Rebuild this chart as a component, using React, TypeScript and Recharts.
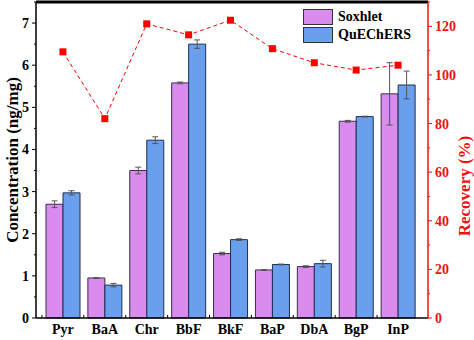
import { ComposedChart, Bar, Line, XAxis, YAxis, ErrorBar, ReferenceLine, Legend } from "recharts"

const categories = ["Pyr", "BaA", "Chr", "BbF", "BkF", "BaP", "DbA", "BgP", "InP"]
const soxhlet = [2.7, 0.95, 3.5, 5.58, 1.53, 1.14, 1.22, 4.67, 5.32]
const soxhletErr = [0.08, 0.01, 0.08, 0.02, 0.03, 0.01, 0.02, 0.02, 0.74]
const quechers = [2.97, 0.78, 4.22, 6.5, 1.86, 1.27, 1.29, 4.78, 5.53]
const quechersErr = [0.05, 0.04, 0.08, 0.1, 0.02, 0.01, 0.08, 0.01, 0.33]
const recovery = [109.5, 82, 121, 116.5, 122.5, 110.8, 105, 102, 104]

const leftTicks = [0, 0.5, 1, 1.5, 2, 2.5, 3, 3.5, 4, 4.5, 5, 5.5, 6, 6.5, 7, 7.5]
const rightTicks = [0, 10, 20, 30, 40, 50, 60, 70, 80, 90, 100, 110, 120, 130]

const data = categories.map((name, i) => ({
    name,
    soxhlet: soxhlet[i],
    soxErr: soxhletErr[i],
    quechers: quechers[i],
    queErr: quechersErr[i],
    recovery: recovery[i],
}))

const FONT = "'Liberation Serif', 'Times New Roman', serif"
const RED = "#F01010"
const SOX = "#D98CEE"
const QUE = "#6A9FEE"

const LeftTick = ({ x, y, payload }: any) => {
    const major = Number.isInteger(payload.value)
    return (
        <g>
            <line x1={x} x2={x - (major ? 4 : 2)} y1={y} y2={y} stroke="#000" strokeWidth={1} />
            {major && (
                <text x={x - 7} y={y} dy={5} textAnchor="end" fontFamily={FONT} fontWeight="bold" fontSize={14} fill="#000">
                    {payload.value}
                </text>
            )}
        </g>
    )
}

const RightTick = ({ x, y, payload }: any) => {
    const major = payload.value % 20 === 0 && payload.value <= 120
    return (
        <g>
            <line x1={x} x2={x + (major ? 4 : 2)} y1={y} y2={y} stroke={RED} strokeWidth={1} />
            {major && (
                <text x={x + 7} y={y} dy={5} textAnchor="start" fontFamily={FONT} fontWeight="bold" fontSize={14} fill={RED}>
                    {payload.value}
                </text>
            )}
        </g>
    )
}

const BottomTick = ({ x, y, payload }: any) => (
    <g>
        <line x1={x - 21} x2={x - 21} y1={y} y2={y - 3} stroke="#000" strokeWidth={1} />
        <text x={x} y={y + 16} textAnchor="middle" fontFamily={FONT} fontWeight="bold" fontSize={14} fill="#000">
            {payload.value}
        </text>
    </g>
)

const LeftTitle = ({ viewBox }: any) => {
    const cy = viewBox.y + viewBox.height / 2
    return (
        <text
            x={12}
            y={cy}
            transform={`rotate(-90, 12, ${cy})`}
            textAnchor="middle"
            dominantBaseline="central"
            fontFamily={FONT}
            fontWeight="bold"
            fontSize={17}
            fill="#000"
        >
            Concentration (ng/mg)
        </text>
    )
}

const RightTitle = ({ viewBox }: any) => {
    const cy = viewBox.y + viewBox.height / 2 + 26
    const cx = viewBox.x + viewBox.width - 10
    return (
        <text
            x={cx}
            y={cy}
            transform={`rotate(-90, ${cx}, ${cy})`}
            textAnchor="middle"
            dominantBaseline="central"
            fontFamily={FONT}
            fontWeight="bold"
            fontSize={17}
            fill={RED}
        >
            Recovery (%)
        </text>
    )
}

const Square = ({ cx, cy, index }: any) => (
    <rect key={`sq-${index}`} x={cx - 3.5} y={cy - 3.5} width={7} height={7} fill="#FF0000" />
)

const LegendBox = () => (
    <div style={{ fontFamily: FONT, fontWeight: "bold", fontSize: 14, lineHeight: "18px" }}>
        {[
            { label: "Soxhlet", color: SOX },
            { label: "QuEChERS", color: QUE },
        ].map((item) => (
            <div key={item.label} style={{ display: "flex", alignItems: "center", height: 18 }}>
                <span
                    style={{
                        display: "inline-block",
                        width: 28,
                        height: 14,
                        background: item.color,
                        border: "1px solid #333",
                        marginRight: 5,
                    }}
                />
                <span>{item.label}</span>
            </div>
        ))}
    </div>
)

export default function App() {
    return (
        <div style={{ position: "absolute", left: 0, top: 0, width: 474, height: 340, background: "#fff" }}>
            <ComposedChart
                width={474}
                height={340}
                data={data}
                margin={{ top: 2, right: 0, bottom: 0, left: 0 }}
                barCategoryGap={4}
                barGap={0}
            >
                <XAxis
                    dataKey="name"
                    height={22}
                    padding={{ left: 6, right: 9 }}
                    axisLine={{ stroke: "#000", strokeWidth: 1.5 }}
                    tickLine={false}
                    tickSize={0}
                    tickMargin={0}
                    tick={<BottomTick />}
                    interval={0}
                />
                <YAxis
                    yAxisId="left"
                    width={36}
                    domain={[0, 7.5]}
                    ticks={leftTicks}
                    interval={0}
                    axisLine={{ stroke: "#000", strokeWidth: 1.5 }}
                    tickLine={false}
                    tickSize={0}
                    tickMargin={0}
                    tick={<LeftTick />}
                    label={<LeftTitle />}
                />
                <YAxis
                    yAxisId="right"
                    orientation="right"
                    width={46}
                    domain={[0, 130]}
                    ticks={rightTicks}
                    interval={0}
                    axisLine={{ stroke: RED, strokeWidth: 1.5 }}
                    tickLine={false}
                    tickSize={0}
                    tickMargin={0}
                    tick={<RightTick />}
                    label={<RightTitle />}
                />
                <ReferenceLine yAxisId="left" y={7.5} stroke="#000" strokeWidth={3} />
                <Bar yAxisId="left" dataKey="soxhlet" name="Soxhlet" fill={SOX} stroke="#3b2b4b" strokeWidth={1} isAnimationActive={false}>
                    <ErrorBar dataKey="soxErr" width={3} stroke="#555" strokeWidth={1} />
                </Bar>
                <Bar yAxisId="left" dataKey="quechers" name="QuEChERS" fill={QUE} stroke="#1f2f4f" strokeWidth={1} isAnimationActive={false}>
                    <ErrorBar dataKey="queErr" width={3} stroke="#555" strokeWidth={1} />
                </Bar>
                <Line
                    yAxisId="right"
                    dataKey="recovery"
                    stroke="#FF0000"
                    strokeWidth={1}
                    strokeDasharray="4 3"
                    dot={<Square />}
                    activeDot={false}
                    isAnimationActive={false}
                />
                <Legend
                    layout="vertical"
                    align="center"
                    verticalAlign="middle"
                    content={<LegendBox />}
                    wrapperStyle={{ top: 8, left: 303, width: 130 }}
                />
            </ComposedChart>
        </div>
    )
}
